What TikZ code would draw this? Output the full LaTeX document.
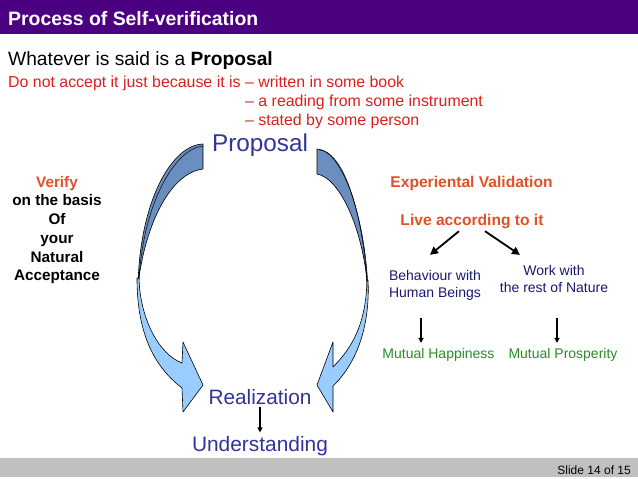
\documentclass[tikz,border=0pt]{standalone}
\usepackage{fontspec}
\setmainfont{Liberation Sans}
\usetikzlibrary{arrows.meta,positioning}
\definecolor{slidepurple}{RGB}{75,0,130}
\definecolor{slidegray}{RGB}{192,192,192}
\definecolor{proposalblue}{RGB}{51,51,153}
\definecolor{textnavy}{RGB}{25,25,112}
\definecolor{warnred}{RGB}{220,30,30}
\definecolor{validorange}{RGB}{226,80,40}
\definecolor{mutualgreen}{RGB}{40,140,40}
\definecolor{banddark}{RGB}{106,142,191}
\definecolor{bandlight}{RGB}{153,204,255}
\newcommand{\pxfont}[2]{\fontsize{#1}{#2}\selectfont}

\begin{document}
\begin{tikzpicture}[
    x=1pt, y=-1pt,
    txt/.style={inner sep=0pt, anchor=base},
    redline/.style={txt, anchor=base west, text=warnred, font=\pxfont{15.9}{19}},
    stage/.style={txt, text=proposalblue},
    validhead/.style={txt, text=validorange, font=\pxfont{15.6}{19}\bfseries},
    lifearea/.style={txt, align=center, text=textnavy},
    outcome/.style={txt, text=mutualgreen, font=\pxfont{14}{17}},
    band/.style={draw=black, line width=0.6pt, line join=round},
    arrow/.style={-{Triangle[length=5pt,width=5pt]}, line width=1.2pt},
    thickarrow/.style={-{Triangle[length=8pt,width=8pt]}, line width=1.8pt}
]
\useasboundingbox (0,0) rectangle (638,479);
\fill[slidepurple] (0,0) rectangle (638,34);
\fill[slidegray] (0,458) rectangle (638,477);

\node[txt, anchor=base west, text=white, font=\pxfont{19.4}{23}\bfseries] (title) at (8,26) {Process of Self-verification};
\node[txt, anchor=base west, font=\pxfont{19.2}{23}] (said) at (8,65) {Whatever is said is a \textbf{Proposal}};
\node[redline] (book) at (8,87) {Do not accept it just because it is – written in some book};
\node[redline] (instrument) at (245,106) {– a reading from some instrument};
\node[redline] (person) at (245,125) {– stated by some person};

% curved arrows
\path[band, fill=banddark] (203,144) .. controls (172,145) and (140,200) .. (138,285)
    .. controls (145,225) and (170,173) .. (203,169) -- cycle;
\draw[line width=0.5pt] (203,146) .. controls (174,149) and (143,205) .. (139,280);
\path[band, fill=bandlight] (137,278) .. controls (137,330) and (152,365) .. (182,388)
    -- (183,412) -- (203,385) -- (183,342) -- (182,363)
    .. controls (160,355) and (140,320) .. (139,278) -- cycle;
\path[band, fill=banddark] (317,149) .. controls (343,150) and (366,220) .. (368,292)
    .. controls (364,230) and (340,178) .. (317,174) -- cycle;
\draw[line width=0.5pt] (320,150) .. controls (346,153) and (364,222) .. (367,285);
\path[band, fill=bandlight] (368,280) .. controls (370,320) and (360,360) .. (333,386)
    -- (333,412) -- (317,385) -- (333,342) -- (333,367)
    .. controls (355,345) and (366,320) .. (367,280) -- cycle;

\node[stage, font=\pxfont{24.3}{28}] (proposal) at (260,151) {Proposal};
\node[stage, font=\pxfont{20.8}{24}] (real) at (260,404) {Realization};
\node[stage, font=\pxfont{20.9}{24}, anchor=north, below=32pt of real] (under) {Understanding};
\draw[arrow, shorten <=3pt, shorten >=4pt] (real) -- (under);

\node[txt, align=center, font=\pxfont{15.3}{18.7}\bfseries] (verify) at (57,280.7)
    {\textcolor{validorange}{Verify}\\on the basis\\Of\\your\\Natural\\Acceptance};

\node[validhead] (valid) at (471.5,187) {Experiental Validation};
\node[validhead] (live) at (472,225.7) {Live according to it};
\node[lifearea, font=\pxfont{14}{16.6}] (behave) at (435,297.3) {Behaviour with\\Human Beings};
\node[lifearea, font=\pxfont{14}{17}] (work) at (554,292.7) {Work with\\the rest of Nature};
\node[outcome] (happy) at (438.5,358.3) {Mutual Happiness};
\node[outcome] (prosper) at (563,358.3) {Mutual Prosperity};
\draw[thickarrow] ([xshift=-13pt,yshift=-2pt]live.south) -- ([xshift=-5pt,yshift=15.5pt]behave.north);
\draw[thickarrow] ([xshift=13pt,yshift=-2pt]live.south) -- ([xshift=-34pt,yshift=10.5pt]work.north);
\draw[arrow] ([xshift=-14pt,yshift=-17.7pt]behave.south) -- ([xshift=-17.5pt,yshift=5pt]happy.north);
\draw[arrow] ([xshift=3pt,yshift=-25.3pt]work.south) -- ([xshift=-6pt,yshift=5pt]prosper.north);

\node[txt, anchor=base east, font=\pxfont{12}{14}] (slide) at (631,474) {Slide 14 of 15};
\end{tikzpicture}
\end{document}
